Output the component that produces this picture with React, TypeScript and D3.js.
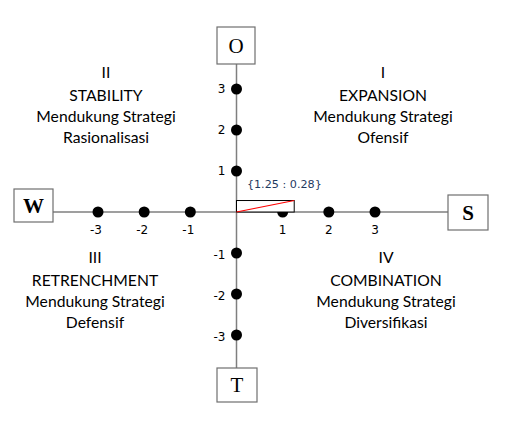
import React from 'react';
import * as d3 from 'd3';

// tick values on each axis
const xTicks = [-3, -2, -1, 1, 2, 3];
const yTicks = [3, 2, 1, -1, -2, -3];

// position of the result (x = S-W, y = O-T)
const resultPoint = [1.25, 0.28];
const resultLabel = '{1.25 : 0.28}';

// quadrant texts
const quadNumbers = ['I', 'II', 'III', 'IV'];
const quadNames = ['EXPANSION', 'STABILITY', 'RETRENCHMENT', 'COMBINATION'];
const quadLine = ['Mendukung Strategi', 'Mendukung Strategi', 'Mendukung Strategi', 'Mendukung Strategi'];
const quadStrategy = ['Ofensif', 'Rasionalisasi', 'Defensif', 'Diversifikasi'];

// axis end boxes
const boxLabels = ['O', 'S', 'T', 'W'];

const W = 505;
const H = 428;

const App = () => {
  const x = d3.scaleLinear().domain([-3, 3]).range([98, 375]);
  const y = d3.scaleLinear().domain([-3, 3]).range([335, 89]);
  const x0 = x(0);
  const y0 = y(0);

  const axisColor = '#7f7f7f';
  const quadFont = 'Lato, "Open Sans", sans-serif';
  const tickFont = '"DejaVu Sans", Verdana, sans-serif';
  const boxFont = '"Liberation Serif", "Times New Roman", serif';

  // quadrant text anchors (centre x, first line y)
  const quadPos = [
    { cx: 383, top: 73 },
    { cx: 106, top: 73 },
    { cx: 95, top: 258 },
    { cx: 386, top: 258 },
  ];

  // box geometry: O top, S right, T bottom, W left
  const boxes = [
    { x: 217, y: 27, w: 38, h: 37, bold: false },
    { x: 448, y: 195, w: 40, h: 35, bold: true },
    { x: 217, y: 368, w: 40, h: 34, bold: false },
    { x: 14, y: 189, w: 39, h: 33, bold: true },
  ];

  const px = x(resultPoint[0]);
  const py = y(resultPoint[1]);

  return (
    <svg width={W} height={H} style={{ position: 'absolute', left: 0, top: 0, background: '#fff' }}>
      {/* axes */}
      <line x1={53} y1={y0} x2={448} y2={y0} stroke={axisColor} strokeWidth={1.5} />
      <line x1={x0} y1={64} x2={x0} y2={368} stroke={axisColor} strokeWidth={1.5} />

      {/* boxes */}
      {boxes.map((b, i) => (
        <g key={boxLabels[i]}>
          <rect x={b.x} y={b.y} width={b.w} height={b.h} fill="#fff" stroke="#6f6f6f" strokeWidth={1.2} />
          <text
            x={b.x + b.w / 2}
            y={b.y + b.h / 2 + 7}
            textAnchor="middle"
            fontFamily={boxFont}
            fontSize={21}
            fontWeight={b.bold ? 'bold' : 'normal'}
            fill="#000"
          >
            {boxLabels[i]}
          </text>
        </g>
      ))}

      {/* dots */}
      {xTicks.map((t) => (
        <circle key={'xd' + t} cx={x(t)} cy={y0} r={5.5} fill="#000" />
      ))}
      {yTicks.map((t) => (
        <circle key={'yd' + t} cx={x0} cy={y(t)} r={5.5} fill="#000" />
      ))}

      {/* tick labels */}
      {xTicks.map((t) => (
        <text key={'xl' + t} x={x(t) - (t < 0 ? 2 : 0)} y={y0 + 22} textAnchor="middle" fontFamily={tickFont} fontSize={12} fill="#000">
          {t}
        </text>
      ))}
      {yTicks.map((t) => (
        <text key={'yl' + t} x={x0 - 11} y={y(t) + 4 + (t < 0 ? 2 : 0)} textAnchor="end" fontFamily={tickFont} fontSize={12} fill="#000">
          {t}
        </text>
      ))}

      {/* result rectangle */}
      <rect x={x0} y={py} width={px - x0} height={y0 - py} fill="#fff" stroke="#000" strokeWidth={1} />
      <line x1={x0} y1={y0} x2={px} y2={py} stroke="#ff0000" strokeWidth={1.2} />
      <text x={(x0 + px) / 2 + 19} y={py - 13} textAnchor="middle" fontFamily={tickFont} fontSize={11.2} fill="#1f3a5f">
        {resultLabel}
      </text>

      {/* quadrant labels */}
      {quadPos.map((q, i) => (
        <text key={quadNumbers[i]} textAnchor="middle" fontFamily={quadFont} fontSize={15.7} fill="#000">
          <tspan x={q.cx} y={q.top + 5}>{quadNumbers[i]}</tspan>
          <tspan x={q.cx} y={q.top + 28}>{quadNames[i]}</tspan>
          <tspan x={q.cx} y={q.top + 49}>{quadLine[i]}</tspan>
          <tspan x={q.cx} y={q.top + 70}>{quadStrategy[i]}</tspan>
        </text>
      ))}
    </svg>
  );
};

export default App;
